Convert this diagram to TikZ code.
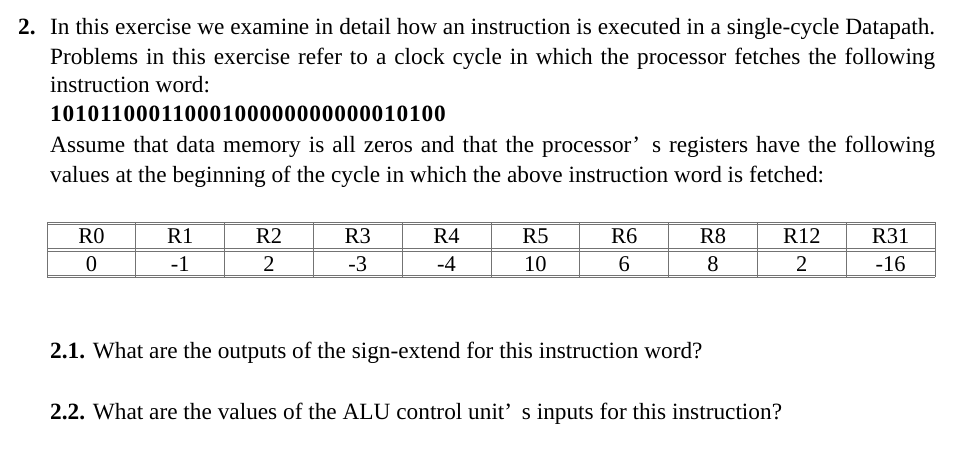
\documentclass[tikz,border=0pt]{standalone}
\usepackage{fontspec}
\setmainfont{Liberation Serif}
\begin{document}
\begin{tikzpicture}[x=1pt,y=-1pt,
  txt/.style={anchor=base west,inner sep=0pt,font=\fontsize{23.3}{27}\selectfont},
  cell/.style={anchor=base,inner sep=0pt,font=\fontsize{22.5}{25}\selectfont},
  rule/.style={draw=black!55,line width=0.8pt}]
\useasboundingbox (0,0) rectangle (964,466);
\fill[white] (0,0) rectangle (964,466);
\node[txt] (n) at (18,34) {\textbf{2.}};
\node[txt] (l1) at (50,34) {\makebox[885pt][s]{In this exercise we examine in detail how an instruction is executed in a single-cycle Datapath.}};
\node[txt] (l2) at (50,64) {\makebox[885pt][s]{Problems in this exercise refer to a clock cycle in which the processor fetches the following}};
\node[txt] (l3) at (50,92) {instruction word:};
\node[txt] (l4) at (50,121) {\bfseries\addfontfeature{LetterSpace=3.5}10101100011000100000000000010100};
\node[txt] (l5) at (50,152) {\makebox[885pt][s]{Assume that data memory is all zeros and that the processor’\, s registers have the following}};
\node[txt] (l6) at (50,182) {values at the beginning of the cycle in which the above instruction word is fetched:};
% table
\draw[rule] (47,222) -- (935,222);
\draw[rule] (47,224) -- (935,224);
\draw[rule] (47,248) -- (935,248);
\draw[rule] (47,251) -- (935,251);
\draw[rule] (47,275) -- (935,275);
\draw[rule] (47,277) -- (935,277);
\foreach \i in {0,...,10}{\draw[rule] ({47+\i*88.8},222) -- ({47+\i*88.8},277);}
\foreach \n [count=\i from 0] in {R0,R1,R2,R3,R4,R5,R6,R8,R12,R31}{
  \node[cell] (h\i) at ({91.4+\i*88.8},243) {\n};}
\foreach \v [count=\i from 0] in {0,-1,2,-3,-4,10,6,8,2,-16}{
  \node[cell] (v\i) at ({91.4+\i*88.8},271) {\v};}
\node[txt] (q1) at (50,358) {\textbf{2.1.} What are the outputs of the sign-extend for this instruction word?};
\node[txt] (q2) at (50,419) {\textbf{2.2.} What are the values of the ALU control unit’\, s inputs for this instruction?};
\end{tikzpicture}
\end{document}
